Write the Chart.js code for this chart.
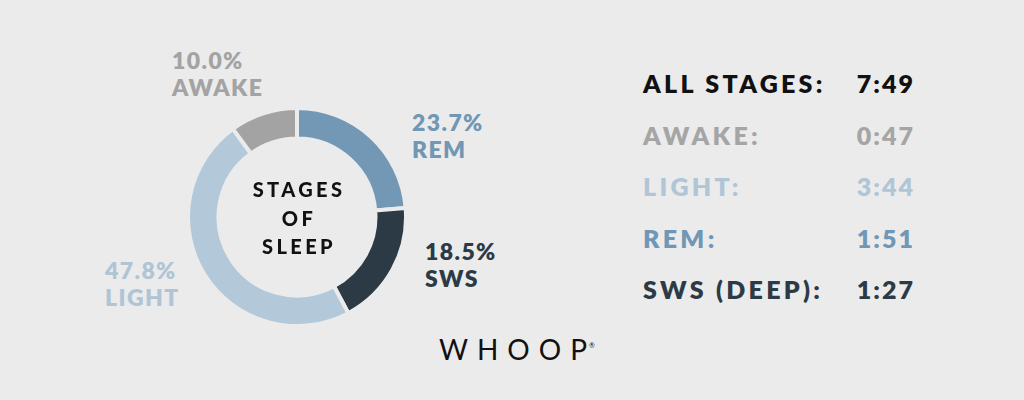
<!DOCTYPE html>
<html>
<head>
<meta charset="utf-8">
<script src="https://cdn.jsdelivr.net/npm/chart.js@4.4.1/dist/chart.umd.min.js"></script>
<style>
  html, body { margin: 0; padding: 0; background: #ebebeb; }
  #page { position: relative; width: 1024px; height: 400px; overflow: hidden; background: #ebebeb;
          font-family: Lato, "Noto Sans", sans-serif; font-weight: 700; }
  #ringBox { position: absolute; left: 186px; top: 106px; width: 222px; height: 222px; }
  .pct { position: absolute; font-size: 23px; line-height: 27px; letter-spacing: 1.4px; white-space: nowrap; font-weight: 800; }
  #centerTitle { position: absolute; left: 199px; top: 175px; width: 200px; text-align: center;
                 font-size: 20px; line-height: 28.5px; letter-spacing: 3.4px; color: #111; font-weight: 900; }
  .row { position: absolute; left: 643px; width: 272px; height: 30px; font-size: 25px; line-height: 30px;
         letter-spacing: 3.3px; white-space: nowrap; font-weight: 800; }
  .row .t { position: absolute; right: 0; top: 0; letter-spacing: 2px; }
  #logo { position: absolute; left: 439px; top: 332px; font-size: 28px; font-weight: 400; letter-spacing: 9px;
          white-space: nowrap; color: #111; }
  #logo .last { letter-spacing: 0; }
  #logo sup { font-size: 7px; letter-spacing: 0; vertical-align: top; position: relative; top: 9px; margin-left: 2px; }
</style>
</head>
<body>
<div id="page">
  <div id="ringBox"><canvas id="sleepChart" width="222" height="222"></canvas></div>
  <div id="centerTitle">STAGES<br>OF<br>SLEEP</div>
  <div id="pctLabels"></div>
  <div id="stageTable"></div>
  <div id="logo">WHOO<span class="last">P</span><sup>®</sup></div>
</div>
<script>
// doughnut data, clockwise from 12 o'clock
const stageNames = ['REM', 'SWS', 'LIGHT', 'AWAKE'];
const stagePercents = [23.7, 18.5, 47.8, 10.0];

// summary table
const tableLabels = ['ALL STAGES:', 'AWAKE:', 'LIGHT:', 'REM:', 'SWS (DEEP):'];
const tableTimes = ['7:49', '0:47', '3:44', '1:51', '1:27'];

const bgColor = '#ebebeb';
const stageColors = { REM: '#7298b6', SWS: '#2b3a45', LIGHT: '#b3c8d9', AWAKE: '#a3a3a3' };
const labelColors = { REM: '#7097b5', SWS: '#2b3a45', LIGHT: '#afc5d6', AWAKE: '#a3a3a3' };
const rowColors = ['#111111', '#a5a5a5', '#b0c6d7', '#7097b5', '#2b3a45'];

// where each percent label sits (top-left of the block)
const labelSpots = { REM: [412, 109], SWS: [425, 238], LIGHT: [105, 257], AWAKE: [172, 47] };

function renderSleepChart() {
    const ctx = document.getElementById('sleepChart').getContext('2d');
    new Chart(ctx, {
        type: 'doughnut',
        data: {
            labels: stageNames,
            datasets: [{
                data: stagePercents,
                backgroundColor: stageNames.map(n => stageColors[n]),
                borderColor: bgColor,
                borderWidth: 4,
                hoverOffset: 0
            }]
        },
        options: {
            responsive: false,
            animation: false,
            cutout: '72%',
            layout: { padding: 0 },
            plugins: { legend: { display: false }, tooltip: { enabled: false } }
        }
    });
}

function renderLabels() {
    const box = document.getElementById('pctLabels');
    stageNames.forEach((name, i) => {
        const div = document.createElement('div');
        div.className = 'pct';
        div.style.left = labelSpots[name][0] + 'px';
        div.style.top = labelSpots[name][1] + 'px';
        div.style.color = labelColors[name];
        div.innerHTML = stagePercents[i].toFixed(1) + '%<br>' + name;
        box.appendChild(div);
    });

    const table = document.getElementById('stageTable');
    tableLabels.forEach((label, i) => {
        const row = document.createElement('div');
        row.className = 'row';
        row.style.top = (68 + i * 51.5) + 'px';
        row.style.color = rowColors[i];
        row.innerHTML = '<span>' + label + '</span><span class="t">' + tableTimes[i] + '</span>';
        table.appendChild(row);
    });
}

renderSleepChart();
renderLabels();
</script>
</body>
</html>
